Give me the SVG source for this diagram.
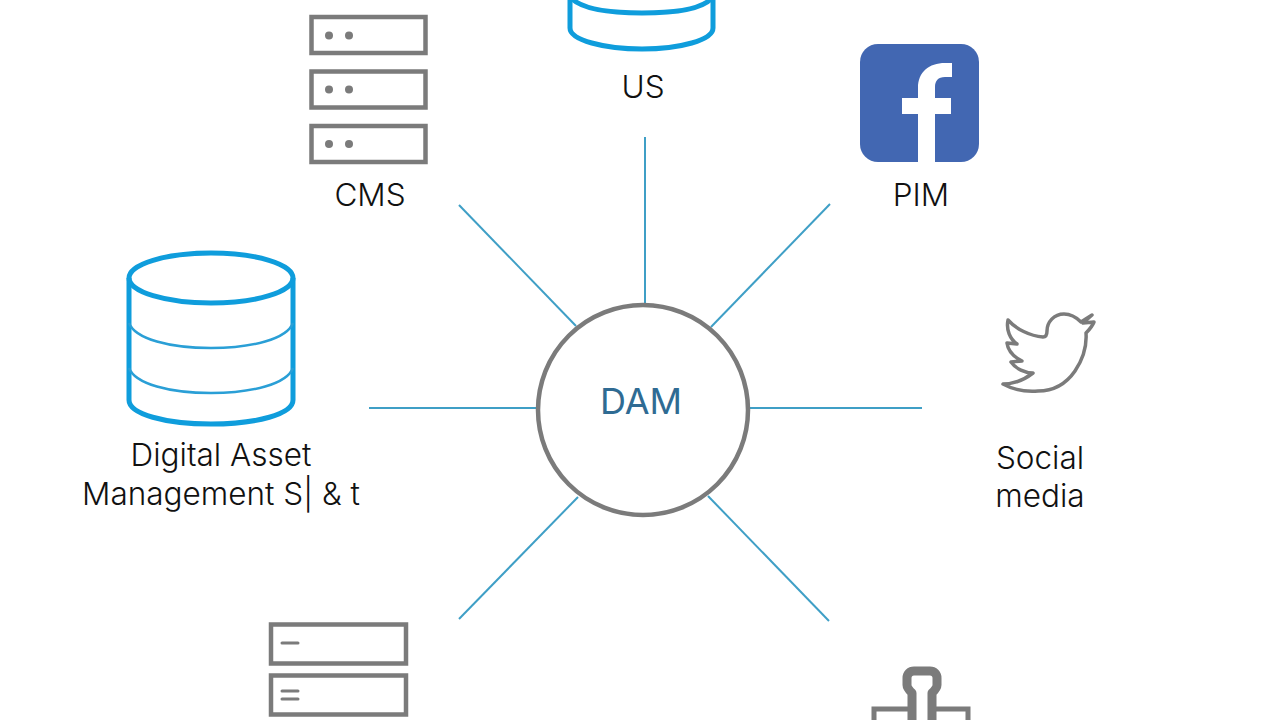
<svg xmlns="http://www.w3.org/2000/svg" width="1280" height="720" viewBox="0 0 1280 720">
<style>
.t{font-family:"Inter","Liberation Sans",sans-serif;font-size:31.5px;font-weight:350;fill:#111;text-anchor:middle}
.c{stroke:#3f9fc6;stroke-width:2;fill:none}
.b{fill:none;stroke:#0f9ddc;stroke-width:5}
.bt{fill:none;stroke:#2a9fd6;stroke-width:2.500}
.g{fill:#fff;stroke:#7b7b7b;stroke-width:4.500}
.d{fill:#7b7b7b}
.l{stroke:#7b7b7b;stroke-width:3;stroke-linecap:round}
</style>
<rect width="1280" height="720" fill="#fff"/>
<g id="connectors">
<line class="c" x1="645" y1="137" x2="645" y2="304"/>
<line class="c" x1="459" y1="205" x2="576" y2="326"/>
<line class="c" x1="830" y1="204" x2="711" y2="327"/>
<line class="c" x1="369" y1="408" x2="539" y2="408"/>
<line class="c" x1="747" y1="408" x2="922" y2="408"/>
<line class="c" x1="459" y1="619" x2="578" y2="497"/>
<line class="c" x1="829" y1="621" x2="708" y2="496"/>
</g>
<g id="dam">
<circle cx="643" cy="410" r="105" fill="#fff" stroke="#7b7b7b" stroke-width="4.500"/>
<text x="641" y="414" class="t" style="font-size:36px;font-weight:400;fill:#2f6b93">DAM</text>
</g>
<g id="us">
<path class="b" d="M570 -6V28C570 40 604 49 642 49C680 49 713 40 713 28V-6"/>
<path class="b" d="M572 -1C582 8 606 13 642 13C678 13 702 8 711 -1"/>
<text x="643" y="98" class="t">US</text>
</g>
<g id="cms">
<rect class="g" x="311.500" y="17" width="114" height="36"/>
<rect class="g" x="311.500" y="71.500" width="114" height="36"/>
<rect class="g" x="311.500" y="126" width="114" height="36"/>
<circle class="d" cx="329" cy="35.500" r="4"/><circle class="d" cx="349" cy="35.500" r="4"/>
<circle class="d" cx="329" cy="89.500" r="4"/><circle class="d" cx="349" cy="89.500" r="4"/>
<circle class="d" cx="329" cy="144" r="4"/><circle class="d" cx="349" cy="144" r="4"/>
<text x="370" y="206" class="t">CMS</text>
</g>
<g id="pim">
<rect x="860" y="44" width="119" height="118" rx="18" fill="#4267b2"/>
<path fill="#fff" d="M918 162V114H902V98H918V88C918 72 929 63 945 63H952V77H945C938 77 935 81 935 87V98H951V114H935V162Z"/>
<text x="921" y="206" class="t">PIM</text>
</g>
<g id="dam-store">
<path class="b" d="M129 278V400C129 414 165 424 211 424C257 424 293 414 293 400V278"/>
<ellipse class="b" cx="211" cy="278" rx="82" ry="25"/>
<path class="bt" d="M129 323C135 339 170 348 211 348C252 348 287 339 293 323"/>
<path class="bt" d="M129 368C135 384 170 393 211 393C252 393 287 384 293 368"/>
<text x="221" y="466" class="t">Digital Asset</text>
<text x="221" y="505" class="t">Management S| &amp; t</text>
</g>
<g id="social">
<path fill="none" stroke="#7b7b7b" stroke-width="3.500" stroke-linejoin="round" d="M1008 320C1016 329 1030 336 1043 337C1047 337 1047 333 1047 331C1047 322 1054 314 1064 314C1071 314 1077 318 1081 322L1092 315L1083 323L1094 322C1092 327 1089 330 1086 333C1087 347 1083 359 1075 371C1066 384 1053 391 1038 391C1025 392 1012 389 1003 384C1013 384 1024 380 1033 373C1025 373 1016 369 1011 362L1022 361C1014 357 1008 351 1007 343L1017 344C1010 339 1006 330 1008 320Z"/>
<text x="1040" y="469" class="t">Social</text>
<text x="1040" y="507" class="t">media</text>
</g>
<g id="files">
<rect class="g" x="271" y="624.500" width="135" height="39"/>
<rect class="g" x="271" y="675.500" width="135" height="39"/>
<line class="l" x1="282" y1="643" x2="298" y2="643"/>
<line class="l" x1="282" y1="691" x2="298" y2="691"/>
<line class="l" x1="282" y1="699" x2="298" y2="699"/>
</g>
<g id="clip">
<path fill="none" stroke="#7b7b7b" stroke-width="5" d="M874 720V709H911M931 709H968V720"/>
<path fill="none" stroke="#7b7b7b" stroke-width="9" stroke-linejoin="round" d="M912 720V693C909 690 907 688 907 685V678C907 674 910 671 914 671H930C934 671 937 674 937 678V685C937 688 935 690 932 693V720"/>
</g>
</svg>
